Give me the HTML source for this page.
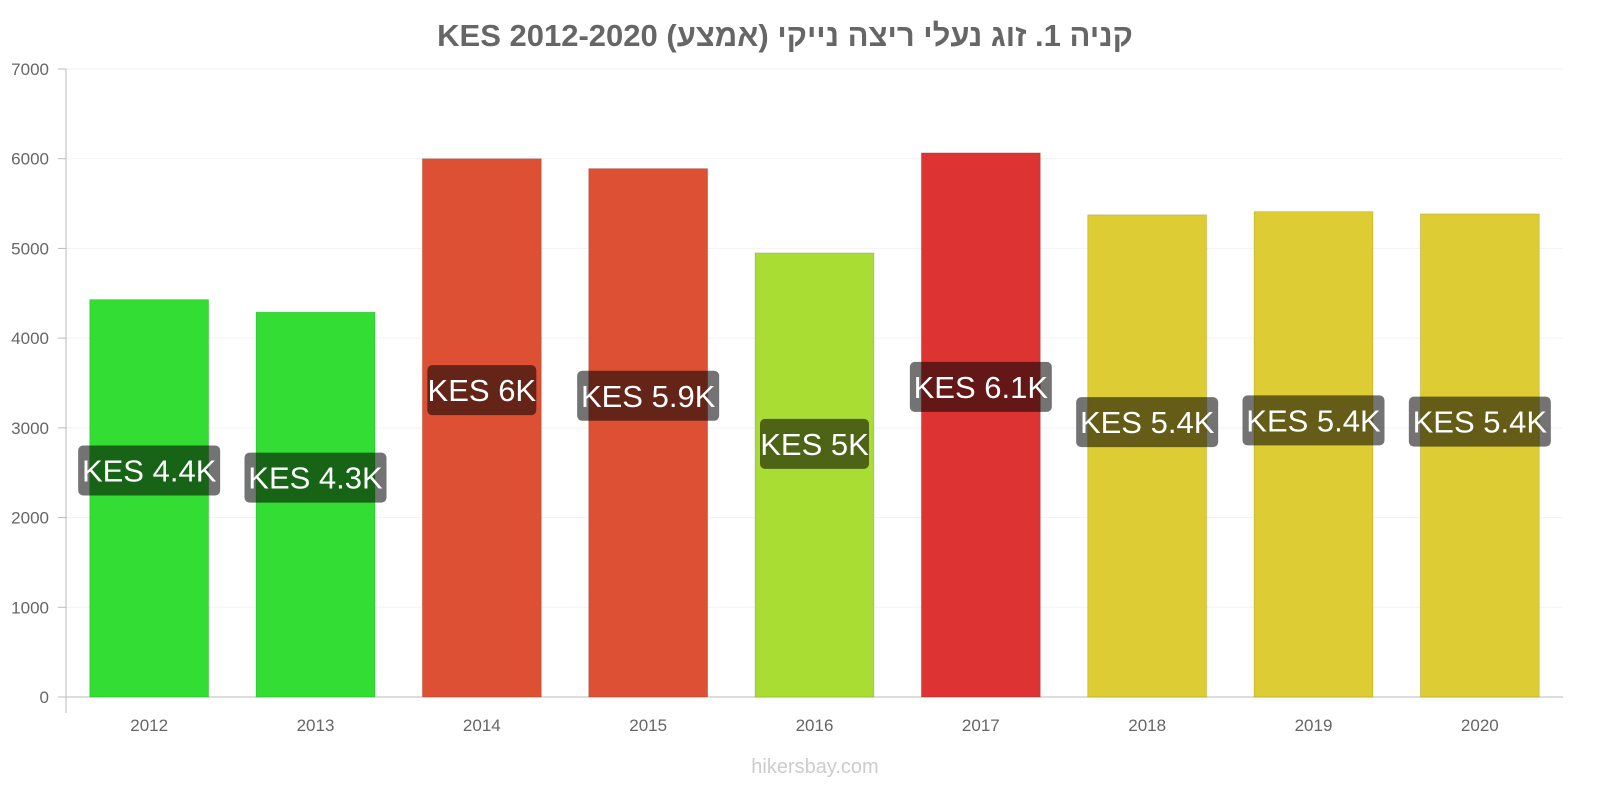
<!DOCTYPE html>
<html><head><meta charset="utf-8"><style>
body{margin:0;background:#fff;width:1600px;height:800px;overflow:hidden}
svg{font-family:"Liberation Sans","DejaVu Sans",sans-serif}
</style></head><body>
<svg id="c" width="1600" height="800">
<text x="785" y="46" text-anchor="middle" font-size="31" font-weight="bold" fill="#666" direction="rtl">קניה 1. זוג נעלי ריצה נייקי (אמצע) KES 2012-2020</text>
<text x="815" y="773" text-anchor="middle" font-size="20" fill="#ccc">hikersbay.com</text>
</svg>
<script>
const years=["2012","2013","2014","2015","2016","2017","2018","2019","2020"];
const values=[4430,4290,6000,5890,4950,6065,5375,5410,5385];
const labels=["KES 4.4K","KES 4.3K","KES 6K","KES 5.9K","KES 5K","KES 6.1K","KES 5.4K","KES 5.4K","KES 5.4K"];
const fills=["#33dd33","#33dd33","#dd5033","#dd5033","#aadd33","#dd3333","#ddcc33","#ddcc33","#ddcc33"];
const yTicks=[0,1000,2000,3000,4000,5000,6000,7000];
const svg=document.getElementById('c');const NS="http://www.w3.org/2000/svg";
const x0=66,x1=1563,y0=697,y1=69,ymax=7000;
const bw=(x1-x0)/years.length;
const y=v=>y0-(v/ymax)*(y0-y1);
const xc=i=>x0+bw*(i+0.5);
function mk(t,a){const e=document.createElementNS(NS,t);for(const k in a)e.setAttribute(k,a[k]);svg.appendChild(e);return e;}
yTicks.forEach(t=>{
 if(t>0){const g=mk('line',{x1:x0,x2:x1,y1:y(t),y2:y(t),stroke:'#f2f2f2'});
 
 }
 const l=mk('text',{x:49,y:y(t)+6,'text-anchor':'end','font-size':17,fill:'#666'});l.textContent=t;
 
 
 const tk=mk('line',{x1:x0-8,x2:x0,y1:y(t),y2:y(t),stroke:'#bbb'});
 
 
});
const ax=mk('line',{x1:x0,x2:x0,y1:y1,y2:713,stroke:'#bbb'});


const bx=mk('line',{x1:x0,x2:x1,y1:y0,y2:y0,stroke:'#bbb'});


years.forEach((yr,i)=>{
 const w=119,cx=xc(i);
 const r=mk('rect',{x:cx-w/2,y:y(values[i]),width:w,height:y0-y(values[i]),fill:fills[i],stroke:'rgba(0,0,0,0.12)'});
 
 
 const t=mk('text',{x:cx,y:731,'text-anchor':'middle','font-size':17,fill:'#666'});t.textContent=yr;
 
 
});
years.forEach((yr,i)=>{
 const cx=xc(i),cy=y(values[i]*0.57);
 const txt=labels[i];const tw=txt.length*16.5+10;
 const b=mk('rect',{x:cx-tw/2,y:cy-25,width:tw,height:50,rx:5,fill:'rgba(0,0,0,0.55)'});
 
 
 const t=mk('text',{x:cx,y:cy+11,'text-anchor':'middle','font-size':31,fill:'#fff'});t.textContent=txt;
 
 
});
</script>
</body></html>
